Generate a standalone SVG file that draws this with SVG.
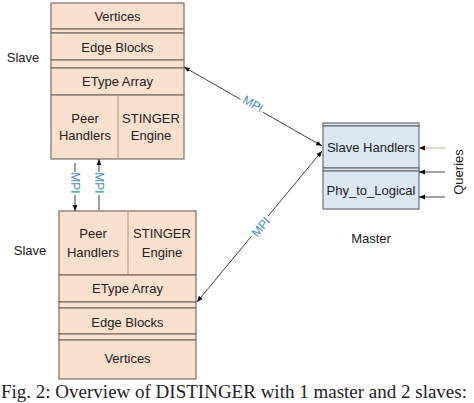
<svg xmlns="http://www.w3.org/2000/svg" width="474" height="403" viewBox="0 0 474 403">
<defs>
<style>
.s{fill:#f9e0cf;stroke:#7d6e66;stroke-width:1.2}
.m{fill:#dce8f3;stroke:#6b6f73;stroke-width:1.2}
.dv{stroke:#b98f7a;stroke-width:1}
.t{font-family:"Liberation Sans",Arial,sans-serif;font-size:13px;fill:#222;text-anchor:middle;dominant-baseline:central}
.lbl{font-family:"Liberation Sans",Arial,sans-serif;font-size:13px;fill:#222;text-anchor:middle;dominant-baseline:central}
.mpi{font-family:"Liberation Sans",Arial,sans-serif;font-size:12px;fill:#4a8fc6;text-anchor:middle;dominant-baseline:central}
.c{stroke:#444;stroke-width:1;fill:none}
</style>
<marker id="ah" viewBox="0 0 10 10" refX="10" refY="5" markerWidth="6" markerHeight="6" orient="auto-start-reverse" markerUnits="userSpaceOnUse">
<path d="M0,1 L10,5 L0,9 z" fill="#111"/>
</marker>
</defs>
<rect width="474" height="403" fill="#fff"/>

<g id="slave-top">
<rect class="s" x="51" y="3" width="133" height="26"/>
<rect class="s" x="51" y="29" width="133" height="4"/>
<rect class="s" x="51" y="33" width="133" height="27"/>
<rect class="s" x="51" y="60" width="133" height="8"/>
<rect class="s" x="51" y="68" width="133" height="27"/>
<rect class="s" x="51" y="95" width="133" height="64"/>
<line class="dv" x1="118" y1="95" x2="118" y2="159"/>
<text class="t" x="117.5" y="16">Vertices</text>
<text class="t" x="117.5" y="47">Edge Blocks</text>
<text class="t" x="117.5" y="81">EType Array</text>
<text class="t" x="85" y="118">Peer</text>
<text class="t" x="85" y="135">Handlers</text>
<text class="t" x="151" y="118">STINGER</text>
<text class="t" x="151" y="135">Engine</text>
<text class="lbl" x="23" y="57">Slave</text>
</g>

<g id="slave-bottom">
<rect class="s" x="59" y="211" width="137" height="64"/>
<line class="dv" x1="128" y1="211" x2="128" y2="275"/>
<rect class="s" x="59" y="275" width="137" height="27"/>
<rect class="s" x="59" y="302" width="137" height="6"/>
<rect class="s" x="59" y="308" width="137" height="26"/>
<rect class="s" x="59" y="334" width="137" height="6"/>
<rect class="s" x="59" y="340" width="137" height="39"/>
<text class="t" x="93" y="233">Peer</text>
<text class="t" x="93" y="252">Handlers</text>
<text class="t" x="162" y="233">STINGER</text>
<text class="t" x="162" y="252">Engine</text>
<text class="t" x="127.5" y="288">EType Array</text>
<text class="t" x="127.5" y="322">Edge Blocks</text>
<text class="t" x="127.5" y="358">Vertices</text>
<text class="lbl" x="30" y="250">Slave</text>
</g>

<g id="master">
<rect class="m" x="323" y="123" width="96" height="3"/>
<rect class="m" x="323" y="126" width="96" height="42"/>
<rect class="m" x="323" y="168" width="96" height="3"/>
<rect class="m" x="323" y="171" width="96" height="38"/>
<text class="t" x="371" y="147">Slave Handlers</text>
<text class="t" x="371" y="190">Phy_to_Logical</text>
<text class="lbl" x="371" y="238">Master</text>
</g>

<g id="connectors">
<line class="c" x1="75" y1="163" x2="75" y2="211" marker-end="url(#ah)"/>
<line class="c" x1="99" y1="210" x2="99" y2="159" marker-end="url(#ah)"/>
<line class="c" x1="184" y1="67" x2="322" y2="146" marker-start="url(#ah)" marker-end="url(#ah)"/>
<line class="c" x1="197" y1="302" x2="322" y2="151" marker-start="url(#ah)" marker-end="url(#ah)"/>
<line x1="445" y1="148" x2="419" y2="148" stroke="#b89684" stroke-width="0.8" marker-end="url(#ah)"/>
<line class="c" x1="445" y1="172" x2="419" y2="172" marker-end="url(#ah)"/>
<line class="c" x1="445" y1="197" x2="419" y2="197" marker-end="url(#ah)"/>
<rect x="68" y="172" width="14" height="23" fill="#fff"/>
<text class="mpi" transform="translate(75,183) rotate(90)">MPI</text>
<rect x="92" y="172" width="14" height="23" fill="#fff"/>
<text class="mpi" transform="translate(99,183) rotate(90)">MPI</text>
<g transform="translate(253,104) rotate(29.8)"><rect x="-13" y="-7" width="26" height="14" fill="#fff"/><text class="mpi" x="0" y="0">MPI</text></g>
<g transform="translate(261,227) rotate(-50.4)"><rect x="-13" y="-7" width="26" height="14" fill="#fff"/><text class="mpi" x="0" y="0">MPI</text></g>
<text class="lbl" transform="translate(458,172) rotate(-90)">Queries</text>
</g>

<text x="1" y="398" font-family="'Liberation Serif','Times New Roman',serif" font-size="19" fill="#222">Fig. 2: Overview of DISTINGER with 1 master and 2 slaves:</text>
</svg>
